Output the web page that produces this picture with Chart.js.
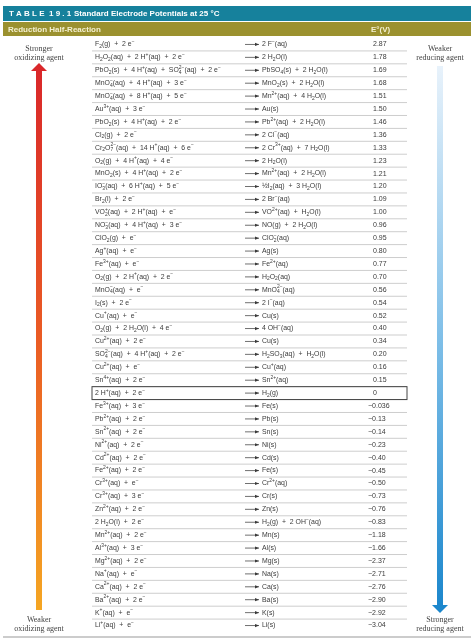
<!DOCTYPE html>
<html>
<head>
<meta charset="utf-8">
<script src="https://cdn.jsdelivr.net/npm/chart.js@4"></script>
<style>
  html, body { margin: 0; padding: 0; background: #fff; }
  #wrap { width: 474px; height: 640px; }
</style>
</head>
<body>
<div id="wrap"><canvas id="miTabla"></canvas></div>
<script>
// ^{..} superindice, _{..} subindice
const reactivos = [
  "F_{2}(g) + 2 e^{−}", "H_{2}O_{2}(aq) + 2 H^{+}(aq) + 2 e^{−}",
  "PbO_{2}(s) + 4 H^{+}(aq) + SO_{4}^{2−}(aq) + 2 e^{−}", "MnO_{4}^{−}(aq) + 4 H^{+}(aq) + 3 e^{−}",
  "MnO_{4}^{−}(aq) + 8 H^{+}(aq) + 5 e^{−}", "Au^{3+}(aq) + 3 e^{−}",
  "PbO_{2}(s) + 4 H^{+}(aq) + 2 e^{−}", "Cl_{2}(g) + 2 e^{−}",
  "Cr_{2}O_{7}^{2−}(aq) + 14 H^{+}(aq) + 6 e^{−}", "O_{2}(g) + 4 H^{+}(aq) + 4 e^{−}",
  "MnO_{2}(s) + 4 H^{+}(aq) + 2 e^{−}", "IO_{3}^{−}(aq) + 6 H^{+}(aq) + 5 e^{−}",
  "Br_{2}(l) + 2 e^{−}", "VO_{2}^{+}(aq) + 2 H^{+}(aq) + e^{−}",
  "NO_{3}^{−}(aq) + 4 H^{+}(aq) + 3 e^{−}", "ClO_{2}(g) + e^{−}",
  "Ag^{+}(aq) + e^{−}", "Fe^{3+}(aq) + e^{−}", "O_{2}(g) + 2 H^{+}(aq) + 2 e^{−}",
  "MnO_{4}^{−}(aq) + e^{−}", "I_{2}(s) + 2 e^{−}", "Cu^{+}(aq) + e^{−}",
  "O_{2}(g) + 2 H_{2}O(l) + 4 e^{−}", "Cu^{2+}(aq) + 2 e^{−}",
  "SO_{4}^{2−}(aq) + 4 H^{+}(aq) + 2 e^{−}", "Cu^{2+}(aq) + e^{−}",
  "Sn^{4+}(aq) + 2 e^{−}", "2 H^{+}(aq) + 2 e^{−}", "Fe^{3+}(aq) + 3 e^{−}",
  "Pb^{2+}(aq) + 2 e^{−}", "Sn^{2+}(aq) + 2 e^{−}", "Ni^{2+}(aq) + 2 e^{−}",
  "Cd^{2+}(aq) + 2 e^{−}", "Fe^{2+}(aq) + 2 e^{−}", "Cr^{3+}(aq) + e^{−}",
  "Cr^{3+}(aq) + 3 e^{−}", "Zn^{2+}(aq) + 2 e^{−}", "2 H_{2}O(l) + 2 e^{−}",
  "Mn^{2+}(aq) + 2 e^{−}", "Al^{3+}(aq) + 3 e^{−}", "Mg^{2+}(aq) + 2 e^{−}",
  "Na^{+}(aq) + e^{−}", "Ca^{2+}(aq) + 2 e^{−}", "Ba^{2+}(aq) + 2 e^{−}",
  "K^{+}(aq) + e^{−}", "Li^{+}(aq) + e^{−}"
];
const productos = [
  "2 F^{−}(aq)", "2 H_{2}O(l)", "PbSO_{4}(s) + 2 H_{2}O(l)", "MnO_{2}(s) + 2 H_{2}O(l)",
  "Mn^{2+}(aq) + 4 H_{2}O(l)", "Au(s)", "Pb^{2+}(aq) + 2 H_{2}O(l)", "2 Cl^{−}(aq)",
  "2 Cr^{3+}(aq) + 7 H_{2}O(l)", "2 H_{2}O(l)", "Mn^{2+}(aq) + 2 H_{2}O(l)",
  "½I_{2}(aq) + 3 H_{2}O(l)", "2 Br^{−}(aq)", "VO^{2+}(aq) + H_{2}O(l)",
  "NO(g) + 2 H_{2}O(l)", "ClO_{2}^{−}(aq)", "Ag(s)", "Fe^{2+}(aq)", "H_{2}O_{2}(aq)",
  "MnO_{4}^{2−}(aq)", "2 I^{−}(aq)", "Cu(s)", "4 OH^{−}(aq)", "Cu(s)",
  "H_{2}SO_{3}(aq) + H_{2}O(l)", "Cu^{+}(aq)", "Sn^{2+}(aq)", "H_{2}(g)", "Fe(s)",
  "Pb(s)", "Sn(s)", "Ni(s)", "Cd(s)", "Fe(s)", "Cr^{2+}(aq)", "Cr(s)", "Zn(s)",
  "H_{2}(g) + 2 OH^{−}(aq)", "Mn(s)", "Al(s)", "Mg(s)", "Na(s)", "Ca(s)", "Ba(s)",
  "K(s)", "Li(s)"
];
const potenciales = [2.87, 1.78, 1.69, 1.68, 1.51, 1.50, 1.46, 1.36, 1.33, 1.23, 1.21, 1.20,
  1.09, 1.00, 0.96, 0.95, 0.80, 0.77, 0.70, 0.56, 0.54, 0.52, 0.40, 0.34, 0.20, 0.16, 0.15,
  0, -0.036, -0.13, -0.14, -0.23, -0.40, -0.45, -0.50, -0.73, -0.76, -0.83, -1.18, -1.66,
  -2.37, -2.71, -2.76, -2.90, -2.92, -3.04];
const etiquetasE = potenciales.map(v => v === 0 ? "0" : (v < 0 ? "−" : "") +
  (Math.abs(v) === 0.036 ? "0.036" : Math.abs(v).toFixed(2)));
const filaReferencia = 27;

const FUENTE = '"Liberation Sans", Arial, sans-serif';
const SERIF = '"Liberation Serif", "DejaVu Serif", serif';

function dibujaFormula(ctx, txt, x, y, size) {
  const re = /([_^])\{([^}]*)\}/g;
  let pos = 0, m;
  const partes = [];
  while ((m = re.exec(txt)) !== null) {
    if (m.index > pos) partes.push([txt.slice(pos, m.index), 0]);
    partes.push([m[2], m[1] === '_' ? 1 : -1]);
    pos = re.lastIndex;
  }
  if (pos < txt.length) partes.push([txt.slice(pos), 0]);
  let cx = x, inicioSub = null, anchoSub = 0;
  for (let i = 0; i < partes.length; i++) {
    const [s, t] = partes[i];
    const fs = t === 0 ? size : size * 0.72;
    ctx.font = fs + 'px ' + FUENTE;
    const w = ctx.measureText(s).width;
    if (t === 1) {
      ctx.fillText(s, cx, y + size * 0.32);
      inicioSub = cx; anchoSub = w;
      cx += w;
    } else if (t === -1) {
      // apilar sobre el subindice previo
      const sx = (i > 0 && partes[i - 1][1] === 1) ? inicioSub : cx;
      ctx.fillText(s, sx, y - size * 0.4);
      cx = Math.max(cx, sx + w);
      inicioSub = null;
    } else {
      ctx.fillText(s, cx, y);
      cx += w;
      inicioSub = null;
    }
  }
}

const tablaPlugin = {
  id: 'tabla',
  afterDraw(chart) {
    const ctx = chart.ctx;
    const ys = chart.scales.y, xa = chart.chartArea;
    const h = ys.getPixelForValue(1) - ys.getPixelForValue(0);
    ctx.save();
    // cabeceras
    ctx.fillStyle = '#16819c';
    ctx.fillRect(3, 6, 468, 15);
    ctx.fillStyle = '#9b912f';
    ctx.fillRect(3, 22, 468, 14);
    ctx.fillStyle = '#ffffff';
    ctx.textBaseline = 'middle';
    ctx.font = 'bold 8px ' + FUENTE;
    ctx.fillText('T A B L E  1 9 . 1', 9, 14);
    ctx.fillText('Standard Electrode Potentials at 25 °C', 74, 14);
    ctx.fillStyle = '#f4f0d0';
    ctx.fillText('Reduction Half-Reaction', 8, 29.5);
    ctx.fillText('E°(V)', 371, 29.5);

    // filas
    ctx.lineWidth = 0.7;
    for (let i = 0; i < reactivos.length; i++) {
      const yc = ys.getPixelForValue(i);
      ctx.strokeStyle = '#b8b8b8';
      if (i < reactivos.length - 1) {
        ctx.beginPath();
        ctx.moveTo(xa.left, yc + h / 2);
        ctx.lineTo(xa.right, yc + h / 2);
        ctx.stroke();
      }
      ctx.fillStyle = '#3a3a3a';
      ctx.textAlign = 'left';
      dibujaFormula(ctx, reactivos[i].replace(/ \+ /g, '  +  '), 95, yc, 6.9);
      ctx.strokeStyle = '#333';
      ctx.beginPath();
      ctx.moveTo(245, yc); ctx.lineTo(259, yc); ctx.stroke();
      ctx.beginPath();
      ctx.moveTo(259, yc); ctx.lineTo(255, yc - 1.6); ctx.lineTo(255, yc + 1.6); ctx.closePath();
      ctx.fill();
      dibujaFormula(ctx, productos[i].replace(/ \+ /g, '  +  '), 262, yc, 6.9);
      ctx.font = '7px ' + FUENTE;
      ctx.fillText(etiquetasE[i], potenciales[i] < 0 ? 368 : 373, yc);
    }
    const yr = ys.getPixelForValue(filaReferencia);
    ctx.strokeStyle = '#444';
    ctx.lineWidth = 1;
    ctx.strokeRect(xa.left, yr - h / 2, xa.right - xa.left, h);

    // flechas con gradiente
    let g = ctx.createLinearGradient(0, 62, 0, 610);
    g.addColorStop(0, '#d9262a'); g.addColorStop(0.5, '#ea5b24'); g.addColorStop(1, '#f5a623');
    ctx.fillStyle = g;
    ctx.fillRect(36, 70, 6, 540);
    ctx.beginPath(); ctx.moveTo(39, 63); ctx.lineTo(31, 71); ctx.lineTo(47, 71); ctx.closePath(); ctx.fill();
    g = ctx.createLinearGradient(0, 66, 0, 612);
    g.addColorStop(0, '#e8f2fb'); g.addColorStop(0.5, '#7fbfe8'); g.addColorStop(1, '#1a86cc');
    ctx.fillStyle = g;
    ctx.fillRect(437, 66, 6, 540);
    ctx.beginPath(); ctx.moveTo(440, 613); ctx.lineTo(432, 605); ctx.lineTo(448, 605); ctx.closePath(); ctx.fill();

    ctx.fillStyle = '#444';
    ctx.textAlign = 'center';
    ctx.font = '8px ' + SERIF;
    ctx.fillText('Stronger', 39, 49); ctx.fillText('oxidizing agent', 39, 58);
    ctx.fillText('Weaker', 39, 620); ctx.fillText('oxidizing agent', 39, 629);
    ctx.fillText('Weaker', 440, 49); ctx.fillText('reducing agent', 440, 58);
    ctx.fillText('Stronger', 440, 620); ctx.fillText('reducing agent', 440, 629);
    ctx.strokeStyle = '#999';
    ctx.beginPath(); ctx.moveTo(3, 637); ctx.lineTo(471, 637); ctx.stroke();
    ctx.restore();
  }
};

new Chart(document.getElementById('miTabla'), {
  type: 'bar',
  data: {
    labels: reactivos,
    datasets: [{ data: potenciales, backgroundColor: 'rgba(0,0,0,0)' }]
  },
  options: {
    indexAxis: 'y',
    responsive: true,
    maintainAspectRatio: false,
    animation: false,
    layout: { padding: { left: 92, right: 67, top: 38, bottom: 8 } },
    plugins: { legend: { display: false }, tooltip: { enabled: false } },
    scales: { x: { display: false }, y: { display: false } }
  },
  plugins: [tablaPlugin]
});
</script>
</body>
</html>
